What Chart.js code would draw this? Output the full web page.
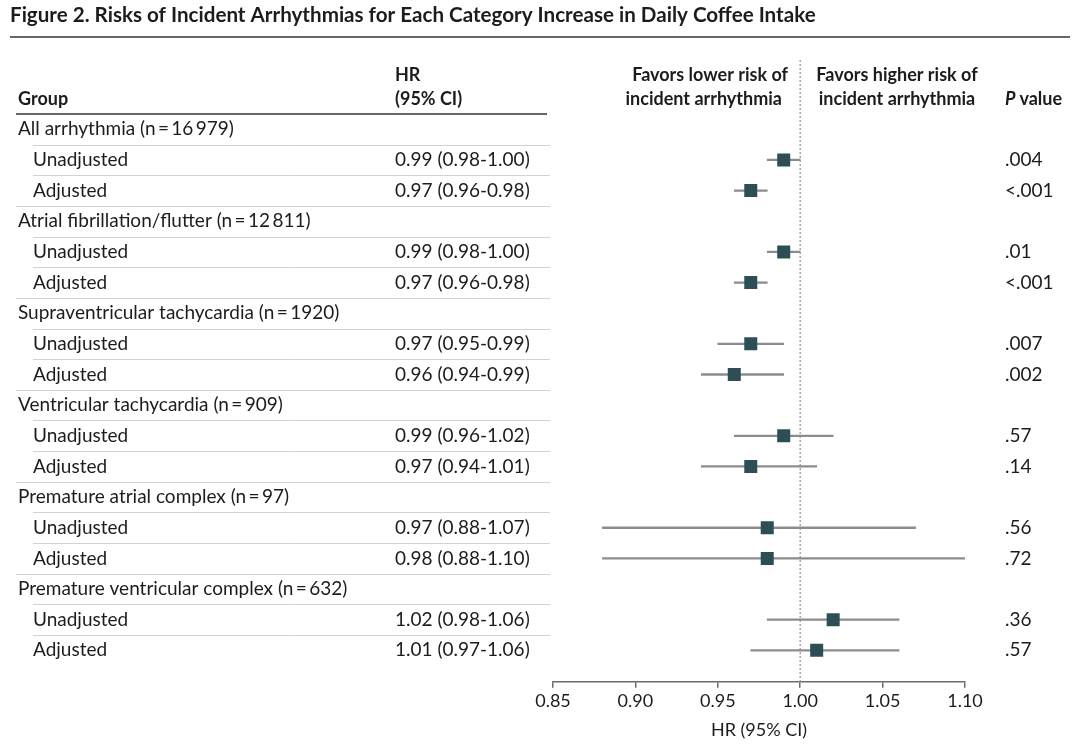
<!DOCTYPE html>
<html>
<head>
<meta charset="utf-8">
<script src="https://cdn.jsdelivr.net/npm/chart.js@4.4.1/dist/chart.umd.min.js"></script>
<style>
  html, body { margin: 0; padding: 0; background: #ffffff; }
  #wrap { width: 1080px; height: 752px; position: relative; }
</style>
</head>
<body>
<div id="wrap"><canvas id="c"></canvas></div>
<script>
// ---- data ----
const titleText = 'Figure 2. Risks of Incident Arrhythmias for Each Category Increase in Daily Coffee Intake';
const rowLabels = [
  'All arrhythmia (n\u2009=\u200916\u2009979)', 'Unadjusted', 'Adjusted',
  'Atrial fibrillation/flutter (n\u2009=\u200912\u2009811)', 'Unadjusted', 'Adjusted',
  'Supraventricular tachycardia (n\u2009=\u20091920)', 'Unadjusted', 'Adjusted',
  'Ventricular tachycardia (n\u2009=\u2009909)', 'Unadjusted', 'Adjusted',
  'Premature atrial complex (n\u2009=\u200997)', 'Unadjusted', 'Adjusted',
  'Premature ventricular complex (n\u2009=\u2009632)', 'Unadjusted', 'Adjusted'
];
const rowIsGroup = [true,false,false,true,false,false,true,false,false,true,false,false,true,false,false,true,false,false];
const hrText = ['', '0.99 (0.98-1.00)', '0.97 (0.96-0.98)',
  '', '0.99 (0.98-1.00)', '0.97 (0.96-0.98)',
  '', '0.97 (0.95-0.99)', '0.96 (0.94-0.99)',
  '', '0.99 (0.96-1.02)', '0.97 (0.94-1.01)',
  '', '0.97 (0.88-1.07)', '0.98 (0.88-1.10)',
  '', '1.02 (0.98-1.06)', '1.01 (0.97-1.06)'];
const pText = ['', '.004', '<.001', '', '.01', '<.001', '', '.007', '.002', '', '.57', '.14', '', '.56', '.72', '', '.36', '.57'];
const hrEst  = [null, 0.99, 0.97, null, 0.99, 0.97, null, 0.97, 0.96, null, 0.99, 0.97, null, 0.98, 0.98, null, 1.02, 1.01];
const ciLow  = [null, 0.98, 0.96, null, 0.98, 0.96, null, 0.95, 0.94, null, 0.96, 0.94, null, 0.88, 0.88, null, 0.98, 0.97];
const ciHigh = [null, 1.00, 0.98, null, 1.00, 0.98, null, 0.99, 0.99, null, 1.02, 1.01, null, 1.07, 1.10, null, 1.06, 1.06];
const xTicks = [0.85, 0.90, 0.95, 1.00, 1.05, 1.10];
const xTitle = 'HR (95% CI)';
const refValue = 1.00;

// ---- style ----
const FONT = 'Lato, "Open Sans", sans-serif';
const TEXT = '#1f1b1c';
const ROW0_PX = 129.3;   // pixel centre of first row
const ROW_STEP = 30.65;  // pixel step between rows

const ciData = [], ptData = [];
hrEst.forEach((v, i) => {
  if (v !== null) {
    ciData.push({ y: i, x: [ciLow[i], ciHigh[i]] });
    ptData.push({ x: v, y: i });
  }
});

const tablePlugin = {
  id: 'table',
  beforeDatasetsDraw(chart) {
    const ctx = chart.ctx, x = chart.scales.x;
    const ca = chart.chartArea;
    ctx.save();
    const xr = x.getPixelForValue(refValue);
    ctx.strokeStyle = '#9a9a9a';
    ctx.lineWidth = 1.3;
    ctx.setLineDash([2, 2]);
    ctx.beginPath();
    ctx.moveTo(xr, 60);
    ctx.lineTo(xr, ca.bottom);
    ctx.stroke();
    ctx.restore();
  },
  afterDraw(chart) {
    const ctx = chart.ctx, y = chart.scales.y;
    const band = y.getPixelForValue(1) - y.getPixelForValue(0);
    ctx.save();
    // title
    ctx.fillStyle = TEXT;
    ctx.textBaseline = 'middle';
    ctx.textAlign = 'left';
    ctx.font = 'bold 20.6px ' + FONT;
    ctx.fillText(titleText, 10, 15);
    ctx.strokeStyle = '#333';
    ctx.lineWidth = 1.5;
    ctx.beginPath(); ctx.moveTo(10, 37); ctx.lineTo(1070, 37); ctx.stroke();

    // header
    ctx.font = 'bold 18px ' + FONT;
    ctx.fillText('Group', 18, 99);
    ctx.fillText('HR', 395, 75);
    ctx.fillText('(95% CI)', 395, 99);
    ctx.textAlign = 'right';
    ctx.fillText('Favors lower risk of', 788, 75);
    ctx.fillText('incident arrhythmia', 782, 99);
    ctx.textAlign = 'center';
    ctx.fillText('Favors higher risk of', 897, 75);
    ctx.fillText('incident arrhythmia', 897, 99);
    ctx.textAlign = 'left';
    ctx.font = 'italic bold 18px ' + FONT;
    ctx.fillText('P', 1005, 99);
    const pw = ctx.measureText('P ').width;
    ctx.font = 'bold 18px ' + FONT;
    ctx.fillText('value', 1005 + pw, 99);

    // header rule
    const top = y.getPixelForValue(-0.5);
    ctx.strokeStyle = '#333';
    ctx.lineWidth = 1.5;
    ctx.beginPath(); ctx.moveTo(16, top); ctx.lineTo(547, top); ctx.stroke();

    // rows
    ctx.font = '19px ' + FONT;
    rowLabels.forEach((lab, i) => {
      const py = y.getPixelForValue(i);
      ctx.fillStyle = TEXT;
      ctx.textAlign = 'left';
      ctx.fillText(lab, rowIsGroup[i] ? 18 : 33, py);
      if (hrText[i]) ctx.fillText(hrText[i], 395, py);
      if (pText[i]) ctx.fillText(pText[i], 1005, py);
      if (i < rowLabels.length - 1) {
        const ly = Math.round(py + band / 2) + 0.5;
        const nextGroup = rowIsGroup[i + 1];
        ctx.strokeStyle = '#d2d2d2';
        ctx.lineWidth = 1;
        ctx.beginPath();
        ctx.moveTo(nextGroup ? 16 : 33, ly);
        ctx.lineTo(550, ly);
        ctx.stroke();
      }
    });
    ctx.restore();
  }
};

const chart = new Chart(document.getElementById('c'), {
  type: 'bar',
  data: {
    datasets: [
      {
        type: 'scatter',
        data: ptData,
        pointStyle: 'rect',
        pointRadius: 9.2,
        pointHoverRadius: 9.2,
        backgroundColor: '#2e4e56',
        borderWidth: 0,
        order: 1
      },
      {
        type: 'bar',
        indexAxis: 'y',
        data: ciData,
        backgroundColor: '#8c8c8c',
        barThickness: 1.6,
        borderWidth: 0,
        borderSkipped: false,
        order: 2
      }
    ]
  },
  options: {
    responsive: true,
    maintainAspectRatio: false,
    animation: false,
    indexAxis: 'y',
    layout: { padding: { left: 553, right: 115, top: 60, bottom: 11 } },
    plugins: { legend: { display: false }, tooltip: { enabled: false } },
    scales: {
      y: {
        type: 'linear',
        display: false,
        reverse: true,
        offset: false,
        min: -2.2,
        max: 18.1
      },
      x: {
        type: 'linear',
        position: 'bottom',
        min: 0.85,
        max: 1.10,
        afterBuildTicks: (s) => { s.ticks = xTicks.map(v => ({ value: v })); },
        border: { display: true, color: '#6a6a6a', width: 1.5 },
        grid: { display: true, drawOnChartArea: false, drawTicks: true, tickLength: 6, color: '#6a6a6a', lineWidth: 1.5 },
        ticks: {
          color: TEXT,
          font: { family: FONT, size: 18 },
          padding: 3,
          maxRotation: 0,
          callback: (v) => Number(v).toFixed(2)
        },
        title: {
          display: true,
          text: xTitle,
          color: TEXT,
          font: { family: FONT, size: 18 },
          padding: { top: 4, bottom: 0 }
        }
      }
    }
  },
  plugins: [tablePlugin]
});

// map row indices onto the table rows: pick the y range from the laid-out chart area
const ca = chart.chartArea;
chart.options.scales.y.min = (ca.top - ROW0_PX) / ROW_STEP;
chart.options.scales.y.max = (ca.bottom - ROW0_PX) / ROW_STEP;
chart.update('none');
</script>
</body>
</html>
